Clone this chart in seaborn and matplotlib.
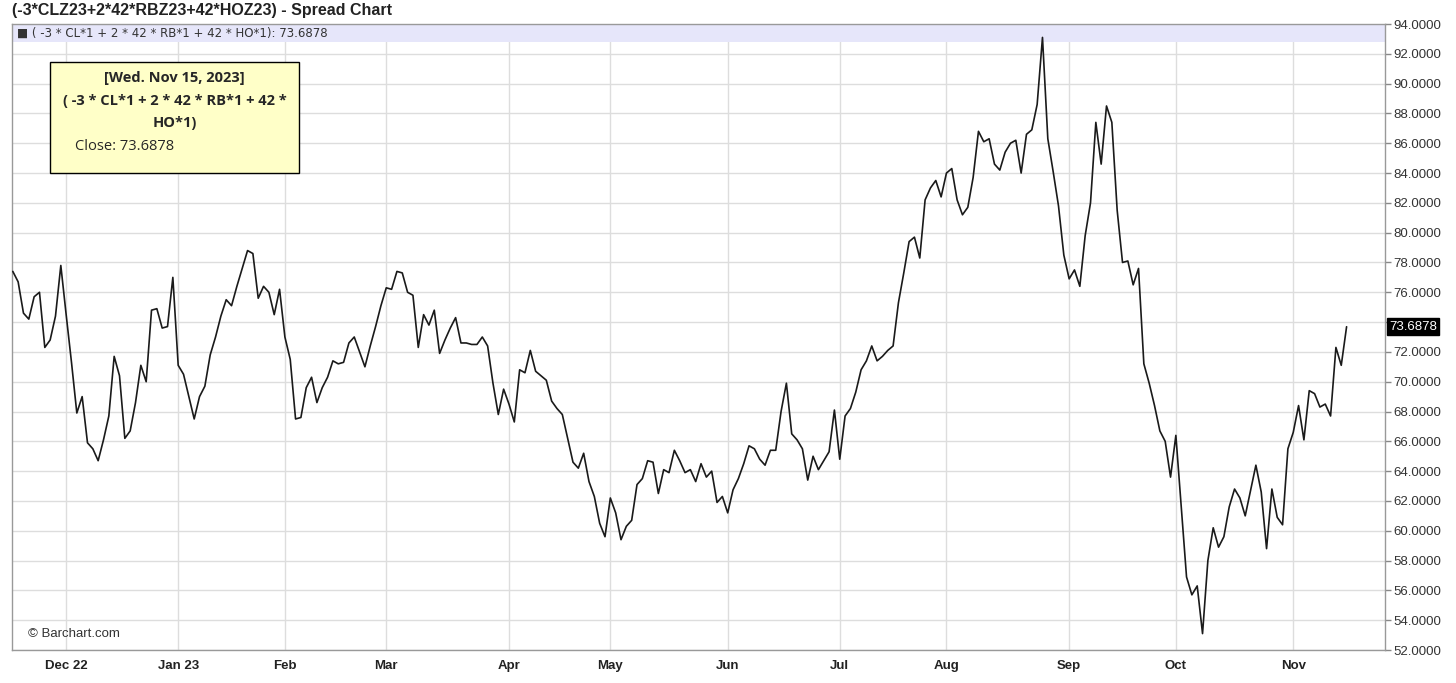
import pandas as pd
import matplotlib
matplotlib.use("Agg")
import matplotlib.pyplot as plt
import matplotlib.transforms as mtrans
from matplotlib.patches import Rectangle
import seaborn as sns

# daily closes of the spread
nov22 = [77.4, 76.7, 74.6, 74.2, 75.7, 76.0, 72.3, 72.8, 74.4, 77.8]
dec22 = [74.5, 71.3, 67.9, 69.0, 65.9, 65.5, 64.7, 66.1, 67.7, 71.7, 70.4, 66.2, 66.7, 68.6,
         71.1, 70.0, 74.8, 74.9, 73.6, 73.7, 77.0]
jan23 = [71.1, 70.5, 69.0, 67.5, 69.0, 69.7, 71.8, 73.0, 74.4, 75.5, 75.1, 76.4, 77.6, 78.8,
         78.6, 75.6, 76.4, 76.0, 74.5, 76.2]
feb23 = [73.0, 71.5, 67.5, 67.6, 69.6, 70.3, 68.6, 69.6, 70.3, 71.4, 71.2, 71.3, 72.6, 73.0,
         72.0, 71.0, 72.4, 73.7, 75.1]
mar23 = [76.3, 76.2, 77.4, 77.3, 76.0, 75.8, 72.3, 74.5, 73.8, 74.8, 71.9, 72.8, 73.6, 74.3,
         72.6, 72.6, 72.5, 72.5, 73.0, 72.4, 69.9, 67.8, 69.5]
apr23 = [68.5, 67.3, 70.8, 70.6, 72.1, 70.7, 70.4, 70.1, 68.7, 68.2, 67.8, 66.2, 64.6, 64.2,
         65.2, 63.3, 62.3, 60.5, 59.6]
may23 = [62.2, 61.2, 59.4, 60.3, 60.7, 63.1, 63.5, 64.7, 64.6, 62.5, 64.1, 63.9, 65.4, 64.7,
         63.9, 64.1, 63.3, 64.5, 63.6, 64.0, 61.9, 62.3]
jun23 = [61.2, 62.75, 63.5, 64.5, 65.7, 65.5, 64.8, 64.4, 65.4, 65.4, 68.0, 69.9, 66.5, 66.1,
         65.5, 63.4, 65.0, 64.1, 64.7, 65.3, 68.1]
jul23 = [64.8, 67.7, 68.2, 69.3, 70.8, 71.4, 72.4, 71.4, 71.7, 72.1, 72.4, 75.3, 77.3, 79.4,
         79.7, 78.3, 82.2, 83.0, 83.5, 82.4]
aug23 = [84.0, 84.3, 82.2, 81.2, 81.7, 83.7, 86.8, 86.1, 86.3, 84.6, 84.2, 85.4, 86.0, 86.2,
         84.0, 86.6, 86.9, 88.6, 93.1, 86.3, 84.1, 81.8, 78.5]
sep23 = [76.9, 77.5, 76.4, 79.8, 82.0, 87.4, 84.6, 88.5, 87.4, 81.5, 78.0, 78.1, 76.5, 77.6,
         71.2, 69.9, 68.4, 66.7, 66.0, 63.6]
oct23 = [66.4, 61.6, 56.9, 55.7, 56.3, 53.1, 58.0, 60.2, 58.9, 59.6, 61.6, 62.8, 62.2, 61.0,
         62.7, 64.4, 62.6, 58.8, 62.8, 60.9, 60.4, 65.5]
nov23 = [66.6, 68.4, 66.1, 69.4, 69.2, 68.3, 68.5, 67.7, 72.3, 71.1, 73.6878]

months = [nov22, dec22, jan23, feb23, mar23, apr23, may23, jun23, jul23, aug23, sep23, oct23, nov23]
month_labels = ["Dec 22", "Jan 23", "Feb", "Mar", "Apr", "May", "Jun", "Jul", "Aug", "Sep", "Oct", "Nov"]
y_ticks = list(range(52, 96, 2))
last_close = 73.6878

holidays = ["2022-11-24", "2022-12-26", "2023-01-02", "2023-01-16", "2023-02-20", "2023-04-07",
            "2023-05-29", "2023-06-19", "2023-07-04", "2023-09-04"]
days = pd.bdate_range("2022-11-16", "2023-11-15")
days = days[~days.isin(pd.to_datetime(holidays))]

closes = [v for m in months for v in m]
df = pd.DataFrame({"date": days, "close": closes})
df["pos"] = range(len(df))
# first trading day of each month from December on
month_start = df.groupby(df["date"].dt.to_period("M"))["pos"].min().iloc[1:].tolist()

sns.set_style("white")
plt.rcParams["font.family"] = ["Liberation Sans", "DejaVu Sans"]

fig = plt.figure(figsize=(14.56, 6.83), dpi=100)
ax = fig.add_axes([12 / 1456, 1 - 650 / 683, 1373 / 1456, 626 / 683])

sns.lineplot(data=df, x="pos", y="close", ax=ax, color="#1a1a1a", linewidth=1.2, zorder=4)

ax.set_xlim(-0.15, 257.2)
ax.set_ylim(52, 94)
ax.set_xlabel("")
ax.set_ylabel("")

ax.set_xticks(month_start)
ax.set_xticklabels(month_labels, fontsize=9.5, fontweight="bold",
                   family=["Liberation Sans Narrow", "Liberation Sans"], color="#222222")
ax.yaxis.tick_right()
ax.set_yticks(y_ticks)
# the 74 label is covered by the last-value tag in the original
ax.set_yticklabels(["" if abs(t - last_close) < 1 else f"{t:.4f}" for t in y_ticks],
                   fontsize=9.5, color="#333333")
ax.tick_params(axis="y", direction="out", length=4, width=1, color="#888888", pad=2)
ax.tick_params(axis="x", direction="out", length=3, width=1, color="#888888", pad=4)

ax.grid(True, color="#dddddd", linewidth=1)
ax.set_axisbelow(True)
for s in ax.spines.values():
    s.set_color("#999999")
    s.set_linewidth(1)

# legend band across top of the plot
ax.add_patch(Rectangle((0, 1 - 18 / 626), 1, 18 / 626, transform=ax.transAxes,
                       facecolor="#e6e6fa", edgecolor="none", zorder=2))
ax.text(0.004, 1 - 9 / 626, "\u25A0 ( -3 * CL*1 + 2 * 42 * RB*1 + 42 * HO*1): 73.6878",
        transform=ax.transAxes, fontsize=8.5, color="#333333", va="center", ha="left", zorder=5,
        family=["DejaVu Sans"])

# last value tag on the price axis
trans = mtrans.blended_transform_factory(ax.transAxes, ax.transData)
ax.text(1.003, last_close, f"{last_close:.4f}", transform=trans, fontsize=9.5, color="white",
        va="center", ha="left", bbox=dict(boxstyle="square,pad=0.18", fc="black", ec="black"))

# hover tooltip
fig.patches.append(Rectangle((50 / 1456, 1 - 173 / 683), 249 / 1456, 111 / 683,
                             transform=fig.transFigure, facecolor="#ffffc8",
                             edgecolor="black", linewidth=1, zorder=10))
tip_font = ["Open Sans", "DejaVu Sans"]
cx = 174.5 / 1456
fig.text(cx, 1 - 78 / 683, "[Wed. Nov 15, 2023]", ha="center", va="center", fontsize=10.5,
         fontweight="bold", family=tip_font, zorder=11)
fig.text(cx, 1 - 101 / 683, "( -3 * CL*1 + 2 * 42 * RB*1 + 42 *", ha="center", va="center",
         fontsize=10.5, fontweight="bold", family=tip_font, zorder=11)
fig.text(cx, 1 - 123 / 683, "HO*1)", ha="center", va="center", fontsize=10.5,
         fontweight="bold", family=tip_font, zorder=11)
fig.text(75 / 1456, 1 - 147 / 683, "Close: 73.6878", ha="left", va="center", fontsize=10.5,
         family=tip_font, zorder=11)

fig.text(28 / 1456, 1 - 634 / 683, "\u00a9 Barchart.com", fontsize=9.5, color="#333333",
         va="center", ha="left", family=["Liberation Sans Narrow", "Liberation Sans"])

fig.text(12 / 1456, 1 - 10 / 683, "(-3*CLZ23+2*42*RBZ23+42*HOZ23) - Spread Chart",
         fontsize=11.5, fontweight="bold", color="#222222", va="center", ha="left")

fig.savefig("out.png", dpi=100)
